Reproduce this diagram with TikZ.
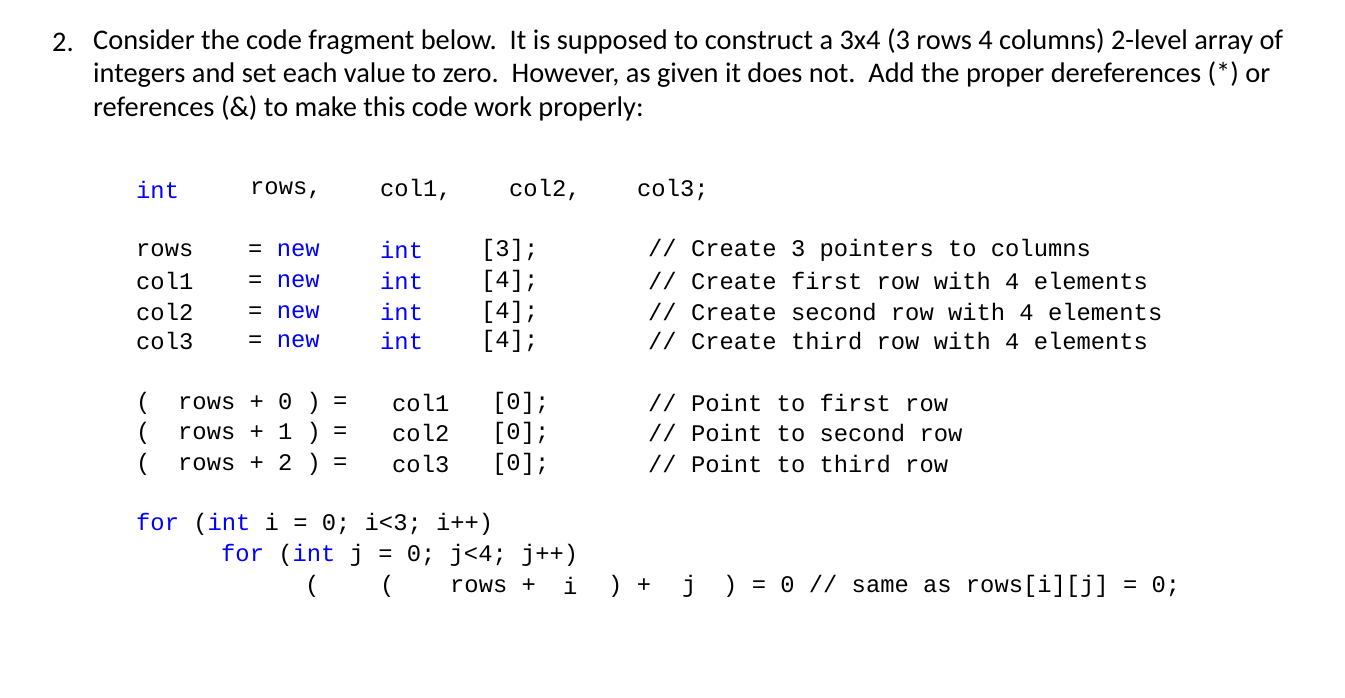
\documentclass[tikz,border=0pt]{standalone}
\usepackage{fontspec}
\setmainfont{Carlito}
\setmonofont{Liberation Mono}
\definecolor{kw}{RGB}{0,0,255}
\begin{document}
\begin{tikzpicture}[x=1pt,y=-1pt,
  tx/.style={anchor=west,inner sep=0pt,font=\fontsize{28.4}{32}\selectfont},
  cd/.style={anchor=west,inner sep=0pt,font=\fontsize{23.8}{26}\ttfamily},
  kwd/.style={cd,text=kw}]
\useasboundingbox (0,0) rectangle (1345,697);
\node[tx] (n2) at (52,42) {2.};
\node[tx] (h1) at (93,42) {Consider the code fragment below.\ \ It is supposed to construct a 3x4 (3 rows 4 columns) 2-level array of};
\node[tx] (h2) at (93,75) {integers and set each value to zero.\ \ However, as given it does not.\ \ Add the proper dereferences (*) or};
\node[tx] (h3) at (93,108) {references (\&) to make this code work properly:};
% declaration
\node[kwd] (d0) at (136,190) {int};
\node[cd] (d1) at (250,190) {rows,};
\node[cd] (d2) at (380,190) {col1,};
\node[cd] (d3) at (509,190) {col2,};
\node[cd] (d4) at (637,190) {col3;};
% new lines
\foreach \v/\n/\y/\c [count=\k] in {rows/3/250/Create 3 pointers to columns,col1/4/281/Create first row with 4 elements,col2/4/312/Create second row with 4 elements,col3/4/341/Create third row with 4 elements}{
  \node[cd] (a\k) at (136,\y) {\v};
  \node[cd] (b\k) at (248,\y) {= \textcolor{kw}{new}};
  \node[kwd] (c\k) at (380,\y) {int};
  \node[cd] (e\k) at (481,\y) {[\n];};
  \node[cd] (f\k) at (648,\y) {// \c};
}
% pointer lines
\foreach \i/\y/\c/\w [count=\k] in {0/403/col1/first,1/433/col2/second,2/464/col3/third}{
  \node[cd] (p\k) at (136,\y) {(};
  \node[cd] (q\k) at (178,\y) {rows + \i\ )};
  \node[cd] (r\k) at (333,\y) {=};
  \node[cd] (s\k) at (392,\y) {\c};
  \node[cd] (t\k) at (492,\y) {[0];};
  \node[cd] (u\k) at (648,\y) {// Point to \w\ row};
}
% loops
\node[cd] (l1) at (136,524) {\textcolor{kw}{for} (\textcolor{kw}{int} i = 0; i<3; i++)};
\node[cd] (l2) at (221,555) {\textcolor{kw}{for} (\textcolor{kw}{int} j = 0; j<4; j++)};
\node[cd] (m1) at (305,586) {(};
\node[cd] (m2) at (380,586) {(};
\node[cd] (m3) at (450,586) {rows +};
\node[cd] (m4) at (563,586) {i};
\node[cd] (m5) at (608,586) {) +};
\node[cd] (m6) at (682,586) {j};
\node[cd] (m7) at (723,586) {) = 0 // same as rows[i][j] = 0;};
\end{tikzpicture}
\end{document}
